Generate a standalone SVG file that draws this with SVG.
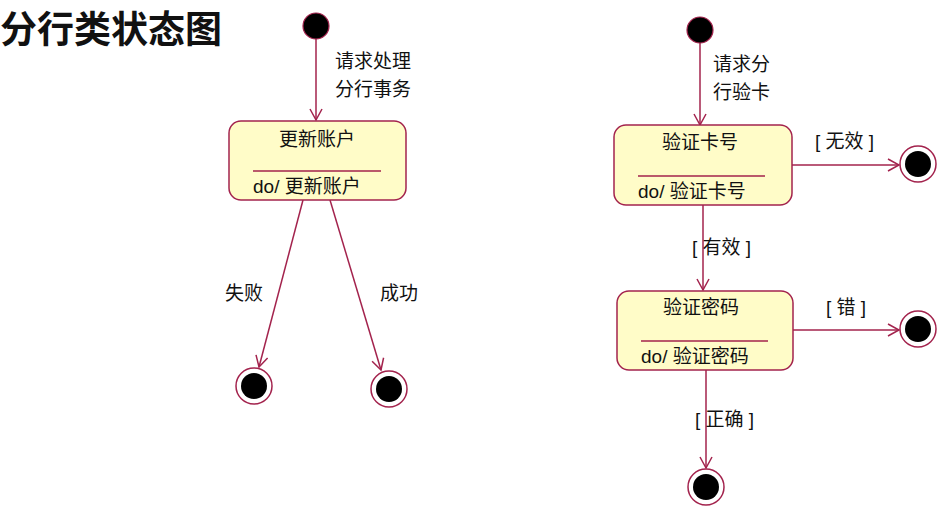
<svg xmlns="http://www.w3.org/2000/svg" width="949" height="508" viewBox="0 0 949 508">
<style>
text{font-family:"Liberation Sans","Noto Sans CJK SC",sans-serif;font-size:19px;fill:#111}
.box{fill:#fffcc8;stroke:#a3234d;stroke-width:1.5}
.div{stroke:#a3234d;stroke-width:1.5}
.ln{stroke:#a3234d;stroke-width:1.5;fill:none}
.init{fill:#000;stroke:#a3234d;stroke-width:1.2}
.fo{fill:#fff;stroke:#a3234d;stroke-width:1.5}
.fi{fill:#000}
.c{text-anchor:middle}
</style>
<defs>
<marker id="a" markerWidth="14" markerHeight="14" refX="12" refY="7" orient="auto" markerUnits="userSpaceOnUse">
<path d="M1,1 L12,7 L1,13" fill="none" stroke="#a3234d" stroke-width="1.5"/>
</marker>
</defs>
<text x="0" y="43" style="font-size:37px;font-weight:bold">分行类状态图</text>
<g id="connectors">
<line class="ln" x1="316" y1="39" x2="316" y2="120" marker-end="url(#a)"/>
<line class="ln" x1="303" y1="200" x2="259" y2="367" marker-end="url(#a)"/>
<line class="ln" x1="330" y1="200" x2="381" y2="370" marker-end="url(#a)"/>
<line class="ln" x1="700" y1="43" x2="700" y2="125" marker-end="url(#a)"/>
<line class="ln" x1="792" y1="165" x2="899" y2="165" marker-end="url(#a)"/>
<line class="ln" x1="703" y1="205" x2="703" y2="290" marker-end="url(#a)"/>
<line class="ln" x1="793" y1="330" x2="899" y2="330" marker-end="url(#a)"/>
<line class="ln" x1="706" y1="370" x2="706" y2="468" marker-end="url(#a)"/>
<text x="335" y="68">请求处理</text>
<text x="335" y="96">分行事务</text>
<text x="225" y="300">失败</text>
<text x="380" y="300">成功</text>
<text x="713" y="71">请求分</text>
<text x="713" y="99">行验卡</text>
<text x="815" y="148">[ 无效 ]</text>
<text x="692" y="254">[ 有效 ]</text>
<text x="826" y="314">[ 错 ]</text>
<text x="695" y="426">[ 正确 ]</text>
</g>
<g id="init1"><circle class="init" cx="316" cy="26" r="13"/></g>
<g id="s1">
<rect class="box" x="229" y="121" width="177" height="79" rx="12"/>
<text class="c" x="317" y="146">更新账户</text>
<line class="div" x1="253" y1="171" x2="381" y2="171"/>
<text x="253" y="193">do/ 更新账户</text>
</g>
<g id="f1"><circle class="fo" cx="254" cy="386" r="18"/><circle class="fi" cx="254" cy="386" r="13"/></g>
<g id="f2"><circle class="fo" cx="389" cy="389" r="18"/><circle class="fi" cx="389" cy="389" r="13"/></g>
<g id="init2"><circle class="init" cx="700" cy="30" r="13"/></g>
<g id="s2">
<rect class="box" x="614" y="125" width="178" height="80" rx="12"/>
<text class="c" x="700" y="149">验证卡号</text>
<line class="div" x1="638" y1="176" x2="765" y2="176"/>
<text x="638" y="198">do/ 验证卡号</text>
</g>
<g id="f3"><circle class="fo" cx="918" cy="164" r="18"/><circle class="fi" cx="918" cy="164" r="13"/></g>
<g id="s3">
<rect class="box" x="617" y="291" width="176" height="79" rx="12"/>
<text class="c" x="701" y="314">验证密码</text>
<line class="div" x1="641" y1="341" x2="768" y2="341"/>
<text x="641" y="363">do/ 验证密码</text>
</g>
<g id="f4"><circle class="fo" cx="918" cy="329" r="18"/><circle class="fi" cx="918" cy="329" r="13"/></g>
<g id="f5"><circle class="fo" cx="706" cy="487" r="18"/><circle class="fi" cx="706" cy="487" r="13"/></g>
</svg>
